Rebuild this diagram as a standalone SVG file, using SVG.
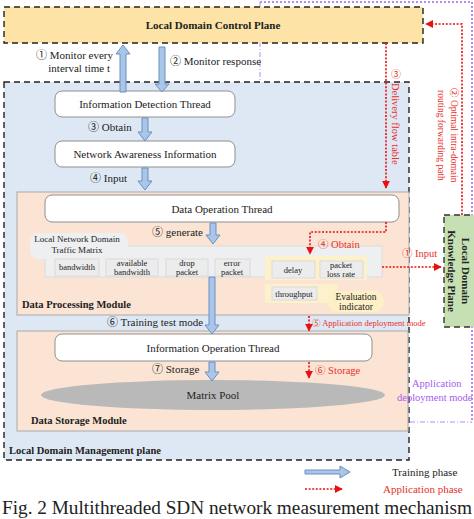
<svg xmlns="http://www.w3.org/2000/svg" width="474" height="519" viewBox="0 0 474 519">
<defs>
<style>
text{font-family:"Liberation Serif","Noto Sans CJK SC",serif;fill:#222}
.t{font-size:11px}
.s{font-size:9px}
.b{font-weight:bold;font-size:10.5px}
.r{fill:#e8302a}
.p{fill:#a55cf0}
.dash{fill:none;stroke:#222;stroke-width:1.4;stroke-dasharray:6,4}
.node{fill:#fff;stroke:#8f8f8f;stroke-width:1}
.cell{fill:#ececec;stroke:#dadada;stroke-width:1}
.blk{fill:#a9c6e8;stroke:#6b8fc4;stroke-width:1}
.red{fill:none;stroke:#e81010;stroke-width:1.6;stroke-dasharray:2,1.6}
</style>
<marker id="ra" viewBox="0 0 10 10" refX="9" refY="5" markerWidth="5" markerHeight="5" orient="auto">
<path d="M0,0 L10,5 L0,10 Z" fill="#e81010"/>
</marker>
</defs>
<rect width="474" height="519" fill="#fff"/>

<!-- purple application deployment region -->
<g id="app-region">
<path d="M260,2 H472 V422" fill="none" stroke="#b48cf2" stroke-width="2" stroke-dasharray="2,2"/>
<path d="M260,2 V422 H472" fill="none" stroke="#b48cf2" stroke-width="1" stroke-dasharray="5,2,1,2"/>
</g>

<g id="control-plane">
<rect x="4" y="7" width="419" height="36" fill="#fde4a6"/>
<rect x="4" y="7" width="419" height="36" class="dash"/>
<text x="213" y="29" text-anchor="middle" class="b" style="font-size:11px">Local Domain Control Plane</text>
</g>

<g id="management-plane">
<rect x="4" y="82" width="405" height="378" fill="#dee8f4"/>
<rect x="4" y="82" width="405" height="378" class="dash"/>
<text x="9" y="454" class="b">Local Domain Management plane</text>
</g>

<g id="data-processing-module">
<rect x="17" y="192" width="392" height="123" fill="#fbe4d4" stroke="#a9a9a9" stroke-width="1"/>
<text x="22" y="308" class="b">Data Processing Module</text>
</g>

<g id="data-storage-module">
<rect x="17" y="331" width="391" height="100" fill="#fbe4d4" stroke="#a9a9a9" stroke-width="1"/>
<text x="31" y="424" class="b">Data Storage Module</text>
</g>

<g id="info-detection-thread">
<rect x="55" y="91" width="180" height="26" rx="7" class="node"/>
<text x="145" y="108" text-anchor="middle" class="t">Information Detection Thread</text>
</g>

<g id="network-awareness-info">
<rect x="55" y="141" width="180" height="26" rx="7" class="node"/>
<text x="145" y="158" text-anchor="middle" class="t">Network Awareness Information</text>
</g>

<g id="data-operation-thread">
<rect x="45" y="195" width="354" height="27" rx="7" class="node"/>
<text x="222" y="213" text-anchor="middle" class="t">Data Operation Thread</text>
</g>

<g id="traffic-matrix">
<rect x="45" y="246" width="337" height="31" fill="#eeeff1" stroke="#dcdcdc" stroke-width="1"/>
<rect x="30" y="233" width="98" height="26" rx="8" fill="#eeeff1"/>
<text x="77" y="242" text-anchor="middle" class="s">Local Network Domain</text>
<text x="77" y="253" text-anchor="middle" class="s">Traffic Matrix</text>
<rect x="55" y="259" width="44" height="17" class="cell"/>
<text x="77" y="270" text-anchor="middle" class="s" style="font-size:8.5px">bandwidth</text>
<rect x="106" y="259" width="52" height="17" class="cell"/>
<text x="132" y="266" text-anchor="middle" class="s" style="font-size:8.5px">available</text>
<text x="132" y="275" text-anchor="middle" class="s" style="font-size:8.5px">bandwidth</text>
<rect x="166" y="259" width="42" height="17" class="cell"/>
<text x="187" y="266" text-anchor="middle" class="s" style="font-size:8.5px">drop</text>
<text x="187" y="275" text-anchor="middle" class="s" style="font-size:8.5px">packet</text>
<rect x="215" y="259" width="35" height="17" class="cell"/>
<text x="232" y="266" text-anchor="middle" class="s" style="font-size:8.5px">error</text>
<text x="232" y="275" text-anchor="middle" class="s" style="font-size:8.5px">packet</text>
</g>

<g id="evaluation-indicator">
<rect x="265" y="256" width="102" height="24" fill="#fdf1cc"/>
<rect x="272" y="261" width="43" height="17" class="cell"/>
<text x="293" y="273" text-anchor="middle" class="s" style="font-size:8.5px">delay</text>
<rect x="320" y="261" width="43" height="17" class="cell"/>
<text x="341" y="268" text-anchor="middle" class="s" style="font-size:8.5px">packet</text>
<text x="341" y="277" text-anchor="middle" class="s" style="font-size:8.5px">loss rate</text>
<rect x="265" y="284" width="72" height="19" fill="#fdf1cc"/>
<rect x="272" y="287" width="45" height="13" class="cell"/>
<text x="294" y="297" text-anchor="middle" class="s" style="font-size:8.5px">throughput</text>
<rect x="328" y="291" width="56" height="21" rx="10" fill="#fdf0c6"/>
<text x="356" y="300" text-anchor="middle" class="s" style="font-size:9.5px">Evaluation</text>
<text x="356" y="310" text-anchor="middle" class="s" style="font-size:9.5px">indicator</text>
</g>

<g id="info-operation-thread">
<rect x="55" y="334" width="317" height="27" rx="7" class="node"/>
<text x="213" y="352" text-anchor="middle" class="t">Information Operation Thread</text>
</g>

<g id="matrix-pool">
<ellipse cx="213" cy="395" rx="172" ry="15" fill="#b9b9b9"/>
<text x="213" y="399" text-anchor="middle" class="t">Matrix Pool</text>
</g>

<g id="knowledge-plane">
<rect x="444" y="215" width="32" height="112" fill="#c6e0b4" stroke="#333" stroke-width="1.4" stroke-dasharray="6,4"/>
<text transform="translate(462,271) rotate(90)" text-anchor="middle" class="b" style="font-size:11px">Local Domain</text>
<text transform="translate(448,271) rotate(90)" text-anchor="middle" class="b" style="font-size:11px">Knowledge  Plane</text>
</g>

<g id="connectors">
<!-- training phase block arrows -->
<path class="blk" d="M120,92 V54 H116 L123,45 L130,54 H126 V92 Z"/>
<path class="blk" d="M159,47 V84 H155 L162,92 L169,84 H165 V47 Z"/>
<path class="blk" d="M142,118 V132 H138 L145,141 L152,132 H148 V118 Z"/>
<path class="blk" d="M142,168 V181 H138 L145,190 L152,181 H148 V168 Z"/>
<path class="blk" d="M210,223 V235 H206 L213,244 L220,235 H216 V223 Z"/>
<path class="blk" d="M209,277 V325 H205 L212,334 L219,325 H215 V277 Z"/>
<path class="blk" d="M209,362 V372 H205 L212,381 L219,372 H215 V362 Z"/>
<!-- application phase red dotted -->
<path class="red" d="M386,43 V188" marker-end="url(#ra)"/>
<path class="red" d="M386,222 V232 H310 V254" marker-end="url(#ra)"/>
<path class="red" d="M382,267 H441" marker-end="url(#ra)"/>
<path class="red" d="M462,215 V24 H426" marker-end="url(#ra)"/>
<path class="red" d="M309,316 V331" marker-end="url(#ra)"/>
<path class="red" d="M309,362 V378" marker-end="url(#ra)"/>
</g>

<g id="labels">
<text x="36" y="59" class="t">① Monitor every</text>
<text x="110" y="72" text-anchor="end" class="t">interval time t</text>
<text x="170" y="65" class="t">② Monitor response</text>
<text x="88" y="131" class="t">③ Obtain</text>
<text x="90" y="182" class="t">④  Input</text>
<text x="152" y="236" class="t">⑤ generate</text>
<text x="107" y="326" class="t">⑥ Training test mode</text>
<text x="152" y="373" class="t">⑦ Storage</text>
<text x="396" y="78" text-anchor="middle" class="s r" style="font-size:10px">③</text>
<text transform="translate(392,83) rotate(90)" class="s r" style="font-size:10.5px">Delivery flow table</text>
<text transform="translate(451,88) rotate(90)" class="s r" style="font-size:9.5px">② Optimal intra-domain</text>
<text transform="translate(438,90) rotate(90)" class="s r" style="font-size:9.5px">routing forwarding path</text>
<text x="318" y="248" class="r" style="font-size:10.5px">④ Obtain</text>
<text x="402" y="257" class="r" style="font-size:10.5px">① Input</text>
<text x="312" y="326" class="r" style="font-size:8.5px">⑤ Application deployment mode</text>
<text x="315" y="374" class="r" style="font-size:10.5px">⑥ Storage</text>
<text x="412" y="387" class="p" style="font-size:10.5px">Application</text>
<text x="397" y="401" class="p" style="font-size:10.5px">deployment mode</text>
</g>

<g id="legend">
<path class="blk" d="M305,470 H340 V466 L350,472 L340,478 V474 H305 Z"/>
<text x="392" y="476" class="t">Training phase</text>
<path class="red" d="M305,489 H342" marker-end="url(#ra)"/>
<text x="383" y="493" class="t r">Application phase</text>
</g>

<text x="2" y="514" style="font-size:19px" textLength="470" lengthAdjust="spacingAndGlyphs">Fig. 2 Multithreaded SDN network measurement mechanism</text>
</svg>
